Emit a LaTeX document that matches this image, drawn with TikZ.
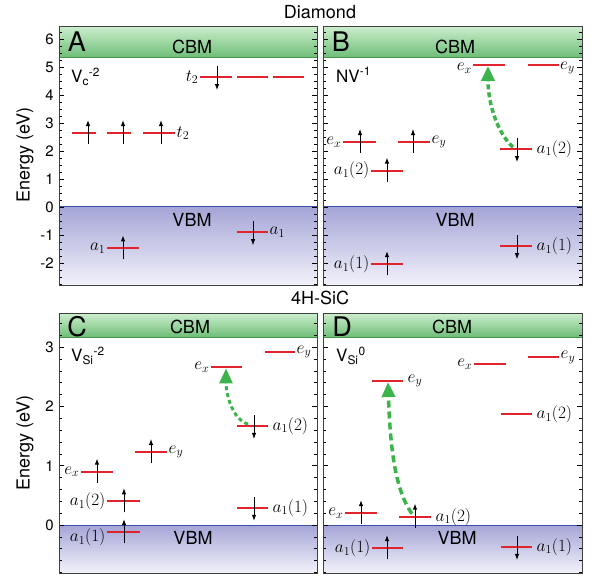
\documentclass[tikz,border=0pt]{standalone}
\usepackage{fontspec}
\setmainfont{TeX Gyre Heros}
\usetikzlibrary{arrows.meta}

\definecolor{lvlred}{RGB}{225,35,45}
\definecolor{exgreen}{RGB}{60,180,75}
\definecolor{cbmtop}{RGB}{205,238,205}
\definecolor{cbmbot}{RGB}{110,190,120}
\definecolor{cbmline}{RGB}{70,150,80}
\definecolor{vbmtop}{RGB}{165,165,215}
\definecolor{vbmbot}{RGB}{242,242,250}
\definecolor{vbmline}{RGB}{60,80,170}

\tikzset{
  lvl/.style={draw=lvlred,line width=2pt},
  spinup/.style={-{Latex[length=6pt,width=4.5pt]},line width=0.9pt},
  excite/.style={draw=exgreen,line width=3.5pt,dash pattern=on 5pt off 3pt,
    -{Triangle[width=13pt,length=15pt]}},
  lab/.style={font=\fontsize{17}{19}\selectfont,inner sep=1.5pt},
  tick/.style={font=\fontsize{15}{17}\selectfont,anchor=east,inner sep=0pt},
  band/.style={font=\fontsize{18}{20}\selectfont,inner sep=1pt},
  letter/.style={font=\fontsize{27}{29}\selectfont,inner sep=1pt},
  defect/.style={font=\fontsize{17}{19}\selectfont,anchor=west,inner sep=0pt},
  frame/.style={draw=black!75,line width=0.8pt},
}

\begin{document}
\begin{tikzpicture}[x=1pt,y=-1pt]

  \useasboundingbox (0,0) rectangle (600,585);

  \node[band] (tdia) at (320,12) {Diamond};
  \node[band] (tsic) at (320,298) {4H-SiC};
  \node[band,rotate=90] (ytop) at (25,155) {Energy (eV)};
  \node[band,rotate=90] (ybot) at (25,443) {Energy (eV)};

  % ---------- diamond ----------
  \begin{scope}[shift={(0,207)},y=28pt]
    \foreach \xa/\xb in {59/317,323/582} {
      \shade[top color=cbmtop,bottom color=cbmbot] (\xa,5.35) rectangle (\xb,6.46);
      \draw[cbmline,line width=1pt] (\xa,5.35) -- (\xb,5.35);
      \shade[top color=vbmtop,bottom color=vbmbot] (\xa,-2.79) rectangle (\xb,0);
      \draw[vbmline,line width=1pt] (\xa,0) -- (\xb,0);
    }
    % levels
    \draw[lvl] (72,2.64) -- (96,2.64) (107,2.64) -- (131,2.64)
      (143,2.64) -- (175,2.64) coordinate (At2b)
      (200,4.64) coordinate (At2c) -- (232,4.64) (237,4.64) -- (268,4.64) (273,4.64) -- (304,4.64)
      (107,-1.48) coordinate (Aa1) -- (139,-1.48)
      (237,-0.9) -- (268,-0.9) coordinate (Aa1r)
      (473,5.07) coordinate (Bex) -- (505,5.07)
      (528,5.07) -- (559,5.07) coordinate (Bey)
      (343,2.32) coordinate (Bex2) -- (376,2.32)
      (398,2.32) -- (430,2.32) coordinate (Bey2)
      (371,1.3) coordinate (Ba12) -- (403,1.3)
      (500,2.07) -- (532,2.07) coordinate (Ba12r)
      (371,-2.04) coordinate (Ba11) -- (403,-2.04)
      (500,-1.4) -- (532,-1.4) coordinate (Ba11r);

    \foreach \xa/\xb in {59/317,323/582} {
      \foreach \i in {-11,...,25}
        \draw[line width=0.6pt] (\xa,\i/4) -- ++(3pt,0) (\xb,\i/4) -- ++(-3pt,0);
      \foreach \i in {-2,...,6}
        \draw[line width=0.6pt] (\xa,\i) -- ++(5pt,0) (\xb,\i) -- ++(-5pt,0);
      \draw[frame] (\xa,-2.79) rectangle (\xb,6.46);
    }
    \foreach \i in {-2,...,6}
      \node[tick] (tk\i) at (54,\i) {\i};

    % spins
    \foreach \x/\e in {88/2.64,123/2.64,161/2.64,123/-1.48,360/2.32,413/2.32,387/1.3,387/-2.04}
      \draw[spinup] (\x,\e) ++(0,-11pt) -- ++(0,24pt);
    \foreach \x/\e in {217/4.64,253/-0.9,517/2.07,517/-1.4}
      \draw[spinup] (\x,\e) ++(0,11pt) -- ++(0,-24pt);

    \node[letter] (pA) at (77,5.9) {A};
    \node[band] (cbmA) at (192,5.72) {CBM};
    \node[band] (vbmA) at (192,-0.45) {VBM};
    \node[defect] (defA) at (71,4.65) {V\textsubscript{c}\textsuperscript{-2}};
    \node[lab,right] (At2) at (At2b) {$t_2$};
    \node[lab,left] (At2u) at (At2c) {$t_2$};
    \node[lab,left] (Aa1l) at (Aa1) {$a_1$};
    \node[lab,right] (Aa1rl) at (Aa1r) {$a_1$};

    \node[letter] (pB) at (341,5.9) {B};
    \node[band] (cbmB) at (455,5.72) {CBM};
    \node[band] (vbmB) at (455,-0.45) {VBM};
    \node[defect] (defB) at (336,4.72) {NV\textsuperscript{-1}};
    \node[lab,left,inner sep=1pt] (Bexl) at ([yshift=-3pt]Bex) {$e_x$};
    \node[lab,right,inner sep=1pt] (Beyl) at ([yshift=-3pt]Bey) {$e_y$};
    \node[lab,left] (Bex2l) at (Bex2) {$e_x$};
    \node[lab,right] (Bey2l) at (Bey2) {$e_y$};
    \node[lab,left] (Ba12l) at (Ba12) {$a_1(2)$};
    \node[lab,right=3pt] (Ba12rl) at (Ba12r) {$a_1(2)$};
    \node[lab,left] (Ba11l) at (Ba11) {$a_1(1)$};
    \node[lab,right=3pt] (Ba11rl) at (Ba11r) {$a_1(1)$};

    \coordinate (Bgo) at (513,2.14);
    \coordinate (Bto) at (488,5.04);
    \draw[excite] (Bgo) .. controls +(-14pt,12pt) and +(0pt,-40pt) .. (Bto);
  \end{scope}

  % ---------- 4H-SiC ----------
  \begin{scope}[shift={(0,525)},y=59.3pt]
    \foreach \xa/\xb in {59/317,323/582} {
      \shade[top color=cbmtop,bottom color=cbmbot] (\xa,3.17) rectangle (\xb,3.575);
      \draw[cbmline,line width=1pt] (\xa,3.17) -- (\xb,3.17);
      \shade[top color=vbmtop,bottom color=vbmbot] (\xa,-0.81) rectangle (\xb,0);
      \draw[vbmline,line width=1pt] (\xa,0) -- (\xb,0);
    }
    % levels
    \draw[lvl] (265,2.92) -- (295,2.92) coordinate (Cey)
      (211,2.66) coordinate (Cex) -- (242,2.66)
      (237,1.67) -- (268,1.67) coordinate (Ca12r)
      (135,1.23) -- (167,1.23) coordinate (Cey2)
      (81,0.9) coordinate (Cex2) -- (113,0.9)
      (107,0.4) coordinate (Ca12) -- (140,0.4)
      (107,-0.12) coordinate (Ca11) -- (140,-0.12)
      (237,0.29) -- (268,0.29) coordinate (Ca11r)
      (528,2.83) -- (559,2.83) coordinate (Dey)
      (474,2.71) coordinate (Dex) -- (506,2.71)
      (372,2.43) -- (403,2.43) coordinate (Dey2)
      (501,1.87) -- (532,1.87) coordinate (Da12r)
      (345,0.2) coordinate (Dex2) -- (377,0.2)
      (399,0.14) -- (431,0.14) coordinate (Da12)
      (372,-0.39) coordinate (Da11) -- (403,-0.39)
      (501,-0.37) -- (532,-0.37) coordinate (Da11r);

    \foreach \xa/\xb in {59/317,323/582} {
      \foreach \i in {-4,...,17}
        \draw[line width=0.6pt] (\xa,\i/5) -- ++(3pt,0) (\xb,\i/5) -- ++(-3pt,0);
      \foreach \i in {0,...,3}
        \draw[line width=0.6pt] (\xa,\i) -- ++(5pt,0) (\xb,\i) -- ++(-5pt,0);
      \draw[frame] (\xa,-0.81) rectangle (\xb,3.575);
    }
    \foreach \i in {0,...,3}
      \node[tick] (tl\i) at (54,\i) {\i};

    % spins
    \foreach \x/\e in {151/1.23,97/0.9,124/0.4,124/-0.12,361/0.2,415/0.14,387/-0.39}
      \draw[spinup] (\x,\e) ++(0,-11pt) -- ++(0,24pt);
    \foreach \x/\e in {254/1.67,254/0.29,517/-0.37}
      \draw[spinup] (\x,\e) ++(0,11pt) -- ++(0,-24pt);

    \node[letter] (pC) at (77,3.34) {C};
    \node[band] (cbmC) at (190,3.34) {CBM};
    \node[band] (vbmC) at (193,-0.22) {VBM};
    \node[defect] (defC) at (71,2.85) {V\textsubscript{Si}\textsuperscript{-2}};
    \node[lab,right] (Ceyl) at (Cey) {$e_y$};
    \node[lab,left] (Cexl) at (Cex) {$e_x$};
    \node[lab,right=3pt] (Ca12rl) at (Ca12r) {$a_1(2)$};
    \node[lab,right] (Cey2l) at (Cey2) {$e_y$};
    \node[lab,left] (Cex2l) at (Cex2) {$e_x$};
    \node[lab,left] (Ca12l) at (Ca12) {$a_1(2)$};
    \node[lab,left] (Ca11l) at ([yshift=-5pt]Ca11) {$a_1(1)$};
    \node[lab,right=3pt] (Ca11rl) at (Ca11r) {$a_1(1)$};

    \node[letter] (pD) at (342,3.34) {D};
    \node[band] (cbmD) at (452,3.34) {CBM};
    \node[band] (vbmD) at (457,-0.22) {VBM};
    \node[defect] (defD) at (336,2.85) {V\textsubscript{Si}\textsuperscript{0}};
    \node[lab,right] (Deyl) at (Dey) {$e_y$};
    \node[lab,left] (Dexl) at (Dex) {$e_x$};
    \node[lab,right=3pt] (Dey2l) at (Dey2) {$e_y$};
    \node[lab,right=3pt] (Da12rl) at (Da12r) {$a_1(2)$};
    \node[lab,left] (Dex2l) at (Dex2) {$e_x$};
    \node[lab,right=3pt] (Da12l) at (Da12) {$a_1(2)$};
    \node[lab,left] (Da11l) at (Da11) {$a_1(1)$};
    \node[lab,right=3pt] (Da11rl) at (Da11r) {$a_1(1)$};

    \coordinate (Cgo) at (248,1.70);
    \coordinate (Cto) at (226,2.64);
    \draw[excite,line width=3pt,dash pattern=on 4pt off 3pt] (Cgo) .. controls +(-16pt,5pt) and +(0pt,-25pt) .. (Cto);
    \coordinate (Dgo) at (412,0.19);
    \coordinate (Dto) at (388,2.41);
    \draw[excite,dash pattern=on 7pt off 4pt] (Dgo) .. controls +(-18pt,25pt) and +(2pt,-60pt) .. (Dto);
  \end{scope}

\end{tikzpicture}
\end{document}
